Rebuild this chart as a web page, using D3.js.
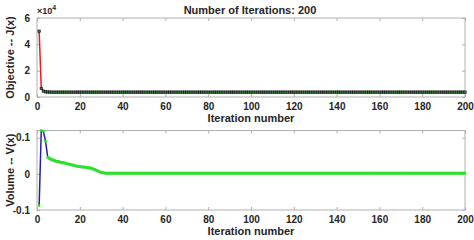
<!DOCTYPE html>
<html>
<head>
<meta charset="utf-8">
<script src="https://cdn.jsdelivr.net/npm/d3@7"></script>
<style>
  body { margin: 0; background: #fff; }
  text { font-family: "Liberation Sans", Arial, sans-serif; font-weight: bold; fill: #262626; }
</style>
</head>
<body>
<svg width="474" height="240"></svg>
<script>
// objective J(x) per iteration (1..200)
var objective = [
  50000, 6500, 4500, 3900, 3800, 3750, 3700, 3700, 3700, 3700, 3700, 3700, 3700, 3700, 3700, 3700, 3700, 3700, 3700, 3700,
  3700, 3700, 3700, 3700, 3700, 3700, 3700, 3700, 3700, 3700, 3700, 3700, 3700, 3700, 3700, 3700, 3700, 3700, 3700, 3700,
  3700, 3700, 3700, 3700, 3700, 3700, 3700, 3700, 3700, 3700, 3700, 3700, 3700, 3700, 3700, 3700, 3700, 3700, 3700, 3700,
  3700, 3700, 3700, 3700, 3700, 3700, 3700, 3700, 3700, 3700, 3700, 3700, 3700, 3700, 3700, 3700, 3700, 3700, 3700, 3700,
  3700, 3700, 3700, 3700, 3700, 3700, 3700, 3700, 3700, 3700, 3700, 3700, 3700, 3700, 3700, 3700, 3700, 3700, 3700, 3700,
  3700, 3700, 3700, 3700, 3700, 3700, 3700, 3700, 3700, 3700, 3700, 3700, 3700, 3700, 3700, 3700, 3700, 3700, 3700, 3700,
  3700, 3700, 3700, 3700, 3700, 3700, 3700, 3700, 3700, 3700, 3700, 3700, 3700, 3700, 3700, 3700, 3700, 3700, 3700, 3700,
  3700, 3700, 3700, 3700, 3700, 3700, 3700, 3700, 3700, 3700, 3700, 3700, 3700, 3700, 3700, 3700, 3700, 3700, 3700, 3700,
  3700, 3700, 3700, 3700, 3700, 3700, 3700, 3700, 3700, 3700, 3700, 3700, 3700, 3700, 3700, 3700, 3700, 3700, 3700, 3700,
  3700, 3700, 3700, 3700, 3700, 3700, 3700, 3700, 3700, 3700, 3700, 3700, 3700, 3700, 3700, 3700, 3700, 3700, 3700, 3700
];

// volume constraint V(x) per iteration (1..200)
var volume = [
  -0.088, 0.12, 0.118, 0.09, 0.046, 0.042, 0.039, 0.037, 0.035, 0.034, 0.032, 0.031, 0.030, 0.028, 0.027, 0.025, 0.024, 0.022, 0.021, 0.020,
  0.019, 0.019, 0.018, 0.017, 0.016, 0.014, 0.012, 0.009, 0.006, 0.004, 0.003, 0.002, 0.002, 0.002, 0.002, 0.002, 0.002, 0.002, 0.002, 0.002,
  0.002, 0.002, 0.002, 0.002, 0.002, 0.002, 0.002, 0.002, 0.002, 0.002, 0.002, 0.002, 0.002, 0.002, 0.002, 0.002, 0.002, 0.002, 0.002, 0.002,
  0.002, 0.002, 0.002, 0.002, 0.002, 0.002, 0.002, 0.002, 0.002, 0.002, 0.002, 0.002, 0.002, 0.002, 0.002, 0.002, 0.002, 0.002, 0.002, 0.002,
  0.002, 0.002, 0.002, 0.002, 0.002, 0.002, 0.002, 0.002, 0.002, 0.002, 0.002, 0.002, 0.002, 0.002, 0.002, 0.002, 0.002, 0.002, 0.002, 0.002,
  0.002, 0.002, 0.002, 0.002, 0.002, 0.002, 0.002, 0.002, 0.002, 0.002, 0.002, 0.002, 0.002, 0.002, 0.002, 0.002, 0.002, 0.002, 0.002, 0.002,
  0.002, 0.002, 0.002, 0.002, 0.002, 0.002, 0.002, 0.002, 0.002, 0.002, 0.002, 0.002, 0.002, 0.002, 0.002, 0.002, 0.002, 0.002, 0.002, 0.002,
  0.002, 0.002, 0.002, 0.002, 0.002, 0.002, 0.002, 0.002, 0.002, 0.002, 0.002, 0.002, 0.002, 0.002, 0.002, 0.002, 0.002, 0.002, 0.002, 0.002,
  0.002, 0.002, 0.002, 0.002, 0.002, 0.002, 0.002, 0.002, 0.002, 0.002, 0.002, 0.002, 0.002, 0.002, 0.002, 0.002, 0.002, 0.002, 0.002, 0.002,
  0.002, 0.002, 0.002, 0.002, 0.002, 0.002, 0.002, 0.002, 0.002, 0.002, 0.002, 0.002, 0.002, 0.002, 0.002, 0.002, 0.002, 0.002, 0.002, 0.002
];

var xTicks = [0, 20, 40, 60, 80, 100, 120, 140, 160, 180, 200];
var objTicks = [0, 20000, 40000, 60000];
var volTicks = [-0.1, 0, 0.1];
var title = "Number of Iterations: 200";

var svg = d3.select("svg");
var left = 37, right = 465;

var x = d3.scaleLinear().domain([0, 200]).range([left, right]);

var objPts = objective.map(function(v, i) { return [i + 1, v]; });
var volPts = volume.map(function(v, i) { return [i + 1, v]; });

// MATLAB style box with inward ticks on all sides
function drawAxes(y, yTicks, yFmt, top, bottom) {
  var g = svg.append("g");
  g.append("rect")
    .attr("x", left).attr("y", top)
    .attr("width", right - left).attr("height", bottom - top)
    .attr("fill", "none").attr("stroke", "#b0b0b0").attr("stroke-width", 1);

  var ax = g.append("g").attr("transform", "translate(0," + bottom + ")")
    .call(d3.axisBottom(x).tickValues(xTicks).tickSizeInner(-3).tickSizeOuter(0).tickPadding(6));
  ax.select(".domain").remove();
  ax.selectAll("line").attr("stroke", "#b0b0b0");
  ax.selectAll("text").attr("font-size", 10).attr("font-family", null).style("fill", "#262626");

  var axt = g.append("g").attr("transform", "translate(0," + top + ")")
    .call(d3.axisTop(x).tickValues(xTicks).tickSizeInner(-3).tickSizeOuter(0).tickFormat(""));
  axt.select(".domain").remove();
  axt.selectAll("line").attr("stroke", "#b0b0b0");

  var ay = g.append("g").attr("transform", "translate(" + left + ",0)")
    .call(d3.axisLeft(y).tickValues(yTicks).tickFormat(yFmt).tickSizeInner(-3).tickSizeOuter(0).tickPadding(7));
  ay.select(".domain").remove();
  ay.selectAll("line").attr("stroke", "#b0b0b0");
  ay.selectAll("text").attr("font-size", 10).attr("font-family", null).style("fill", "#262626");

  var ayr = g.append("g").attr("transform", "translate(" + right + ",0)")
    .call(d3.axisRight(y).tickValues(yTicks).tickSizeInner(-3).tickSizeOuter(0).tickFormat(""));
  ayr.select(".domain").remove();
  ayr.selectAll("line").attr("stroke", "#b0b0b0");

  g.append("text")
    .attr("x", (left + right) / 2).attr("y", bottom + 25)
    .attr("text-anchor", "middle").attr("font-size", 11)
    .text("Iteration number");
}

// TOP PANEL
var t0 = 18, b0 = 97;
var y0 = d3.scaleLinear().domain([0, 60000]).range([b0, t0]);
drawAxes(y0, objTicks, function(d) { return d / 10000; }, t0, b0);

var line0 = d3.line().x(function(d) { return x(d[0]); }).y(function(d) { return y0(d[1]); });
svg.append("path").datum(objPts.slice(1))
  .attr("d", line0).attr("fill", "none").attr("stroke", "#1e5a1e").attr("stroke-width", 1.5);
svg.append("path").datum(objPts.slice(0, 2))
  .attr("d", line0).attr("fill", "none").attr("stroke", "#e02020").attr("stroke-width", 1.5);
svg.selectAll(".objpt").data(objPts).enter().append("rect")
  .attr("class", "objpt")
  .attr("x", function(d) { return x(d[0]) - 1.2; })
  .attr("y", function(d) { return y0(d[1]) - 1.2; })
  .attr("width", 2.4).attr("height", 2.4)
  .attr("fill", "#3a7a3a").attr("stroke", "#111").attr("stroke-width", 0.6);

svg.append("text").attr("x", left).attr("y", 14).attr("font-size", 9).attr("font-weight", "normal")
  .text("\u00d710").append("tspan").attr("dy", -4).attr("font-size", 7).text("4");

svg.append("text").attr("x", 250).attr("y", 14).attr("text-anchor", "middle").attr("font-size", 11)
  .text(title);

svg.append("text")
  .attr("transform", "translate(14," + (t0 + b0) / 2 + ") rotate(-90)")
  .attr("text-anchor", "middle").attr("font-size", 11)
  .text("Objective -- J(x)");

// BOTTOM PANEL
var t1 = 130.5, b1 = 210;
var y1 = d3.scaleLinear().domain([-0.1, 0.12]).range([b1, t1]);
drawAxes(y1, volTicks, function(d) { return d === 0 ? "0" : d; }, t1, b1);

var line1 = d3.line().x(function(d) { return x(d[0]); }).y(function(d) { return y1(d[1]); });
svg.append("path").datum(volPts.slice(4))
  .attr("d", line1).attr("fill", "none").attr("stroke", "#2ee02e").attr("stroke-width", 3);
svg.append("path").datum(volPts.slice(0, 5))
  .attr("d", line1).attr("fill", "none").attr("stroke", "#2222a0").attr("stroke-width", 1.5);
svg.selectAll(".volpt").data(volPts).enter().append("rect")
  .attr("class", "volpt")
  .attr("x", function(d) { return x(d[0]) - 1.2; })
  .attr("y", function(d) { return y1(d[1]) - 1.2; })
  .attr("width", 2.4).attr("height", 2.4)
  .attr("fill", "#2ee02e");

svg.append("text")
  .attr("transform", "translate(14," + (t1 + b1) / 2 + ") rotate(-90)")
  .attr("text-anchor", "middle").attr("font-size", 11)
  .text("Volume -- V(x)");
</script>
</body>
</html>
